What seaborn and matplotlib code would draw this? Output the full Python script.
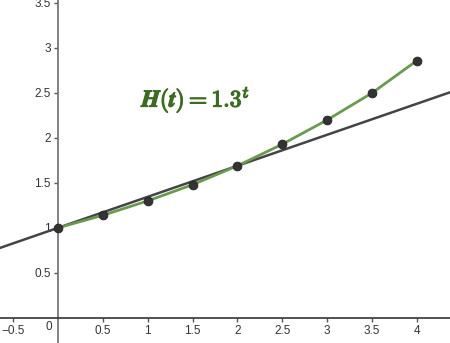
import matplotlib
matplotlib.use("Agg")
import matplotlib.pyplot as plt
import matplotlib.patheffects as pe
import seaborn as sns
import pandas as pd

t_values = [0, 0.5, 1, 1.5, 2, 2.5, 3, 3.5, 4]
h_values = [1.00, 1.14, 1.30, 1.48, 1.69, 1.93, 2.20, 2.50, 2.86]
x_ticks = [-0.5, 0.5, 1, 1.5, 2, 2.5, 3, 3.5, 4]
x_tick_labels = ["\u22120.5", "0.5", "1", "1.5", "2", "2.5", "3", "3.5", "4"]
y_ticks = [0.5, 1, 1.5, 2, 2.5, 3, 3.5]
y_tick_labels = ["0.5", "1", "1.5", "2", "2.5", "3", "3.5"]
title_text = r"$\boldsymbol{H(t) = 1.3^t}$"

sns.set_theme(style="white")
plt.rcParams["font.family"] = ["Liberation Sans", "DejaVu Sans"]
plt.rcParams["mathtext.fontset"] = "cm"

df = pd.DataFrame({"t": t_values, "H": h_values})

fig = plt.figure(figsize=(4.5, 3.43), dpi=100)
ax = fig.add_axes([0, 0, 1, 1])
ax.set_xlim(-0.646, 4.368)
ax.set_ylim(-0.28, 3.533)

# secant line through first point and point at t=2
ax.axline((t_values[0], h_values[0]), (t_values[4], h_values[4]),
          color="#444444", lw=1.8, zorder=3)
sns.lineplot(data=df, x="t", y="H", ax=ax, color="#6a9a4f", lw=2, zorder=4)
sns.scatterplot(data=df, x="t", y="H", ax=ax, color="#333333", s=40,
                edgecolor="#222222", linewidth=0.6, zorder=5)

for s in ["top", "right"]:
    ax.spines[s].set_visible(False)
ax.spines["left"].set_position(("data", 0))
ax.spines["bottom"].set_position(("data", 0))
ax.spines["left"].set_color("#777777")
ax.spines["bottom"].set_color("#333333")
ax.spines["left"].set_linewidth(1.3)
ax.spines["bottom"].set_linewidth(1.2)
ax.spines["left"].set_zorder(2)
ax.spines["bottom"].set_zorder(2)

ax.set_xticks(x_ticks)
ax.set_xticklabels(x_tick_labels)
ax.set_yticks(y_ticks)
ax.set_yticklabels(y_tick_labels)
ax.tick_params(axis="both", which="both", direction="out", length=3, width=1,
               color="#555555", labelsize=8.5, labelcolor="#333333", pad=2,
               bottom=True, left=True)
ax.text(-0.1, -0.1, "0", ha="center", va="center", fontsize=8.5, color="#333333")
ax.set_xlabel("")
ax.set_ylabel("")

ax.text(0.93, 2.42, title_text, ha="left", va="center", fontsize=17,
        color="#3e6b22",
        path_effects=[pe.withStroke(linewidth=0.9, foreground="#3e6b22")])

fig.savefig("out.png", dpi=100)
